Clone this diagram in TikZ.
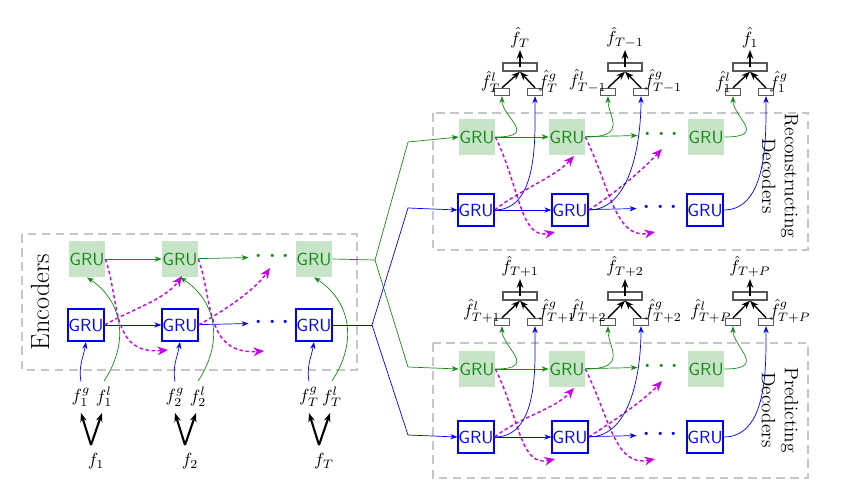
\documentclass[tikz,border=0pt]{standalone}
\usepackage{amsmath}
\usetikzlibrary{arrows.meta}
\definecolor{gfill}{RGB}{200,228,200}
\definecolor{gdark}{RGB}{20,140,20}
\definecolor{mag}{RGB}{200,0,235}
\begin{document}
\begin{tikzpicture}[x=0.02cm,y=-0.02cm,font=\fontsize{10}{11}\selectfont]
\tikzset{
  ggru/.style={fill=gfill,text=gdark,minimum size=0.72cm,inner sep=0pt,font=\sffamily\fontsize{10}{10}\selectfont},
  bgru/.style={draw=blue,very thick,text=blue,minimum width=0.68cm,minimum height=0.64cm,inner sep=0pt,font=\sffamily\fontsize{10}{10}\selectfont},
  grp/.style={draw=gray!45,line width=1.6pt,dash pattern=on 5pt off 3pt},
  gar/.style={gdark,-{Stealth[length=4pt]}},
  bar/.style={blue,-{Stealth[length=4pt]}},
  mar/.style={mag,thick,dash pattern=on 2pt off 1.5pt,-{Stealth[length=6pt,width=5pt]}},
  small/.style={draw=gray!70!black,thick,minimum width=0.3cm,minimum height=0.14cm,inner sep=0pt},
  big/.style={draw=gray!70!black,thick,minimum width=0.68cm,minimum height=0.16cm,inner sep=0pt},
  kar/.style={black,thick,-{Stealth[length=5pt]}},
  dots/.style={font=\bfseries\fontsize{16}{16}\selectfont}
}
\useasboundingbox (0,0) rectangle (841,486);
% groups
\draw[grp] (22,234) rectangle (357,370);
\draw[grp] (433,113) rectangle (808,250);
\draw[grp] (433,343) rectangle (808,478);
\node[rotate=90,font=\fontsize{15}{16}\selectfont] (enc) at (40,302) {Encoders};
\node[rotate=-90,align=center,font=\fontsize{11}{13}\selectfont] (rec) at (780,176) {Reconstructing\\Decoders};
\node[rotate=-90,align=center,font=\fontsize{11}{13}\selectfont] (pre) at (780,410) {Predicting\\Decoders};

% encoder
\node[ggru] (eg1) at (87,259) {GRU};
\node[ggru] (eg2) at (180,259) {GRU};
\node[ggru] (eg3) at (314,259) {GRU};
\node[bgru] (eb1) at (86,325) {GRU};
\node[bgru] (eb2) at (180,325) {GRU};
\node[bgru] (eb3) at (314,325) {GRU};
\node[dots,text=gdark] (egd) at (275,257) {$\cdots$};
\node[dots,text=blue] (ebd) at (275,323) {$\cdots$};
\draw[gar] (eg1) -- (eg2); \draw[gar] (eg2) -- (egd);
\draw[bar] (eb1) -- (eb2); \draw[bar] (eb2) -- (ebd);
\coordinate (em1) at (168,350); \coordinate (em2) at (264,351);
\coordinate (em3) at (182,276); \coordinate (em4) at (270,268);
\draw[mar] (eg1.east) .. controls (120,300) and (110,355) .. (em1);
\draw[mar] (eg2.east) .. controls (213,300) and (205,355) .. (em2);
\draw[mar] (eb1.east) .. controls (130,310) and (165,300) .. (em3);
\draw[mar] (eb2.east) .. controls (225,310) and (255,290) .. (em4);

\foreach \i/\x/\s in {1/86/1,2/180/2,3/314/T}{
  \node (fg\i) at (\x-5,397) {$f_{\s}^{g}$};
  \node (fl\i) at (\x+18,397) {$f_{\s}^{l}$};
  \node (f\i) at (\x+10,461) {$f_{\s}$};
  \coordinate (fa\i) at (\x+5,445);
  \coordinate (fb\i) at (\x-5,413);
  \coordinate (fc\i) at (\x+16,413);
  \draw[kar,line width=1.2pt] (fa\i) -- (fb\i);
  \draw[kar,line width=1.2pt] (fa\i) -- (fc\i);
  \draw[bar] (fg\i.north) to[out=100,in=-100] (eb\i.south);
  \draw[gar] (fl\i.north) .. controls (\x+45,340) and (\x+35,300) .. (eg\i.south);
}

% decoders
\foreach \d/\yg/\yb in {r/137/210,p/369/437}{
  \node[ggru] (\d g1) at (477,\yg) {GRU};
  \node[ggru] (\d g2) at (567,\yg) {GRU};
  \node[ggru] (\d g3) at (706,\yg) {GRU};
  \node[bgru] (\d b1) at (476,\yb) {GRU};
  \node[bgru] (\d b2) at (570,\yb) {GRU};
  \node[bgru] (\d b3) at (705,\yb) {GRU};
  \node[dots,text=gdark] (\d gd) at (664,\yg-2) {$\cdots$};
  \node[dots,text=blue] (\d bd) at (663,\yb-2) {$\cdots$};
  \draw[gar] (\d g1) -- (\d g2); \draw[gar] (\d g2) -- (\d gd);
  \draw[bar] (\d b1) -- (\d b2); \draw[bar] (\d b2) -- (\d bd);
  \draw[mar] (\d g1.east) .. controls (520,\yg+50) and (520,\yb+30) .. (555,\yb+22);
  \draw[mar] (\d g2.east) .. controls (610,\yg+50) and (615,\yb+30) .. (655,\yb+22);
  \draw[mar] (\d b1.east) .. controls (520,\yb-20) and (555,\yg+40) .. (574,\yg+19);
  \draw[mar] (\d b2.east) .. controls (620,\yb-20) and (645,\yg+30) .. (662,\yg+12);
}
% encoder to decoders
\coordinate (jg) at (375,260);
\coordinate (jb) at (372,325);
\draw[gdark] (eg3.east) -- (jg);
\draw[gar] (jg) -- (408,142) -- (rg1.west);
\draw[gar] (jg) -- (408,367) -- (pg1.west);
\draw[blue] (eb3.east) -- (jb);
\draw[bar] (jb) -- (408,208) -- (rb1.west);
\draw[bar] (jb) -- (408,435) -- (pb1.west);

% output heads
\foreach \d/\ys/\yo/\ygr/\ybl in {r/92/67/137/210,p/322/296/369/437}{
  \foreach \k/\xa/\xb/\xc in {1/502/535/520,2/608/641/625,3/733/766/750}{
    \node[small] (\d l\k) at (\xa,\ys) {};
    \node[small] (\d r\k) at (\xb,\ys) {};
    \node[big] (\d o\k) at (\xc,\yo) {};
    \draw[kar] (\d l\k.north) -- (\d o\k.south);
    \draw[kar] (\d r\k.north) -- (\d o\k.south);
    \draw[gar] (\d g\k.east) .. controls ([xshift=25]\d g\k.east) and (\xa,\ys+25) .. (\d l\k.south);
    \draw[bar] (\d b\k.east) .. controls ([xshift=25]\d b\k.east) and (\xb,\ys+45) .. (\d r\k.south);
  }
}
\foreach \d/\k/\s in {r/1/T,r/2/T-1,r/3/1,p/1/T+1,p/2/T+2,p/3/T+P}{
  \node[anchor=south,inner sep=1pt] (\d h\k) at ([yshift=7pt]\d o\k.north) {$\hat f_{\s}$};
  \draw[kar] (\d o\k.center) -- ([yshift=7pt]\d o\k.north);
  \node[anchor=south east,inner sep=0pt] (\d hl\k) at ([xshift=4pt,yshift=-3pt]\d l\k.north west) {$\hat f^{l}_{\s}$};
  \node[anchor=south west,inner sep=0pt] (\d hg\k) at ([xshift=-3pt,yshift=-3pt]\d r\k.north east) {$\hat f^{g}_{\s}$};
}
\end{tikzpicture}
\end{document}
